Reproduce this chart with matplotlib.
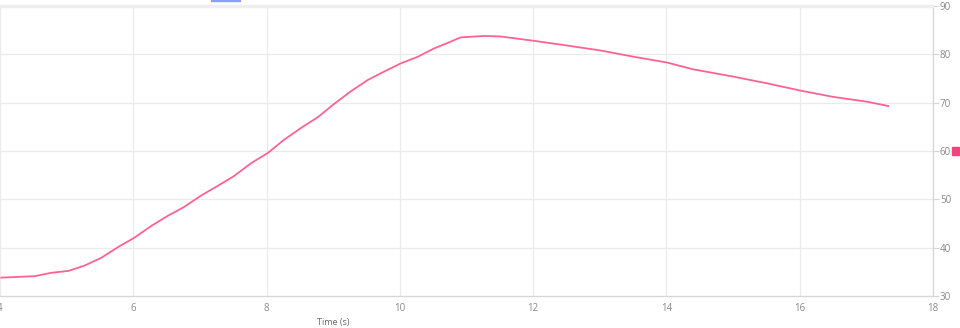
import matplotlib
matplotlib.use("Agg")
import matplotlib.pyplot as plt
from matplotlib.patches import Rectangle

plt.rcParams["font.family"] = ["Open Sans", "DejaVu Sans"]

# ---- data -----------------------------------------------------------------
time_s = [4.02, 4.52, 4.77, 5.03, 5.27, 5.52, 5.78, 6.01, 6.27, 6.52, 6.76,
          7.02, 7.27, 7.51, 7.77, 8.02, 8.26, 8.52, 8.77, 9.01, 9.27, 9.52,
          9.76, 10.01, 10.27, 10.51, 10.76, 10.91, 11.26, 11.51, 12.01, 12.52,
          13.01, 13.51, 14.01, 14.40, 15.00, 15.51, 16.01, 16.50, 17.01, 17.33]
value = [33.8, 34.1, 34.8, 35.2, 36.3, 37.9, 40.2, 42.0, 44.5, 46.6, 48.4,
         50.8, 52.8, 54.8, 57.5, 59.6, 62.3, 64.8, 67.0, 69.7, 72.4, 74.7,
         76.4, 78.1, 79.5, 81.2, 82.6, 83.5, 83.8, 83.7, 82.8, 81.8,
         80.8, 79.5, 78.3, 76.9, 75.4, 74.0, 72.5, 71.2, 70.2, 69.3]
x_ticks = [4, 6, 8, 10, 12, 14, 16, 18]
y_ticks = [30, 40, 50, 60, 70, 80, 90]

LINE = "#ff6393"
GRID = "#ebebeb"
TXT = "#8a8a8a"

W, H = 960, 328
fig = plt.figure(figsize=(W / 100, H / 100), dpi=100)
ax = fig.add_axes([0, 32 / H, 933 / W, 290 / H])

ax.plot(time_s, value, color=LINE, lw=1.3, solid_joinstyle="round")

ax.set_xlim(4.0225, 18)
ax.set_ylim(30, 90)
ax.set_xticks(x_ticks)
ax.set_yticks(y_ticks)
ax.grid(True, color=GRID, lw=0.9)
ax.set_axisbelow(True)

for s in ["left", "top"]:
    ax.spines[s].set_visible(False)
for s in ["right", "bottom"]:
    ax.spines[s].set_color("#d6d6d6")
    ax.spines[s].set_linewidth(0.9)
ax.yaxis.tick_right()
ax.tick_params(axis="y", length=4, color="#d6d6d6", labelsize=7,
               labelcolor=TXT, pad=1)
ax.tick_params(axis="x", length=0, labelsize=7, labelcolor=TXT, pad=5)

fig.text(333 / W, 1 - 323 / H, "Time (s)", ha="center", va="center",
         fontsize=6.5, color="#666666")

# top border band, legend remnant and axis marker
fig.patches.append(Rectangle((0, 1 - 7 / H), 933 / W, 2 / H,
                             transform=fig.transFigure, color="#eeeeee"))
fig.patches.append(Rectangle((211 / W, 1 - 1.2 / H), 29 / W, 1.2 / H,
                             transform=fig.transFigure, color="#8c9cff"))
fig.patches.append(Rectangle((952 / W, 1 - 155 / H), 7 / W, 8 / H,
                             transform=fig.transFigure, color="#f0457e"))

fig.savefig("out.png", dpi=100, facecolor="white")
